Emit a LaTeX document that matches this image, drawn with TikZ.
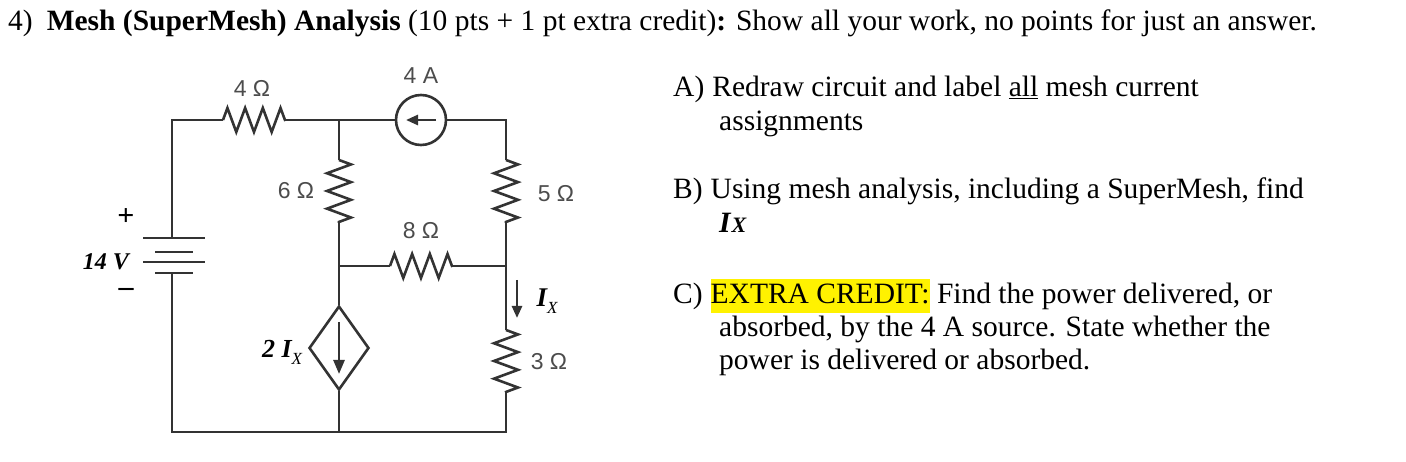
\documentclass[tikz,border=0pt]{standalone}
\usepackage{fontspec}
\setmainfont{Liberation Serif}
\newfontfamily\circfont{Liberation Sans}
\usetikzlibrary{decorations.pathmorphing,shapes.geometric,arrows.meta}
\begin{document}
\begin{tikzpicture}[x=1pt,y=-1pt,
    wire/.style={line width=2.6pt, black!80},
    res/.style={wire, decorate, decoration={zigzag, segment length=17.7pt, amplitude=12pt}},
    val/.style={font=\circfont\fontsize{23}{25}\selectfont, text=black!70},
    txt/.style={anchor=base west, font=\fontsize{29.5}{33}\selectfont, inner sep=0pt}]
    \useasboundingbox (0,0) rectangle (1406,462);
    % Corners and junctions
    \coordinate (tl) at (172,120); \coordinate (tm) at (339,120); \coordinate (tr) at (506,120);
    \coordinate (ml) at (339,266); \coordinate (mr) at (506,266);
    \coordinate (bl) at (172,432); \coordinate (bm) at (339,432); \coordinate (br) at (506,432);
    \coordinate (bat+) at (172,238); \coordinate (bat-) at (172,273);
    \coordinate (ra1) at (223,120); \coordinate (ra2) at (285,120);
    \coordinate (rb1) at (339,160); \coordinate (rb2) at (339,223);
    \coordinate (rc1) at (506,160); \coordinate (rc2) at (506,223);
    \coordinate (rd1) at (390,266); \coordinate (rd2) at (452,266);
    \coordinate (re1) at (506,330); \coordinate (re2) at (506,392);
    \coordinate (ix1) at (517,280); \coordinate (ix2) at (517,318);

    % Sources
    \node[circle, draw, wire, minimum size=50pt, inner sep=0pt] (src) at (421,120) {};
    \node[diamond, draw, wire, minimum width=60pt, minimum height=84pt, inner sep=0pt] (dep) at (339,348) {};
    \draw[wire, -{Triangle[length=12pt,width=10pt]}] ([xshift=15pt]src.center) -- ([xshift=-15pt]src.center);
    \draw[wire, -{Triangle[length=14pt,width=11pt]}] ([yshift=26pt]dep.center) -- ([yshift=-26pt]dep.center);

    % Wires
    \draw[wire] (bat+) -- (tl) -- (ra1);
    \draw[wire] (ra2) -- (tm) -- (src.west);
    \draw[wire] (src.east) -- (tr) -- (rc1);
    \draw[wire] (tm) -- (rb1);
    \draw[wire] (rb2) -- (ml) -- (rd1);
    \draw[wire] (rd2) -- (mr) -- (rc2);
    \draw[wire] (ml) -- (dep.north);
    \draw[wire] (dep.south) -- (bm);
    \draw[wire] (mr) -- (re1);
    \draw[wire] (re2) -- (br) -- (bl) -- (bat-);
    \draw[wire] (bm) -- (br);

    % Resistors
    \draw[res] (ra1) -- (ra2);
    \draw[res] (rb1) -- (rb2);
    \draw[res] (rc1) -- (rc2);
    \draw[res] (rd1) -- (rd2);
    \draw[res] (re1) -- (re2);

    % Battery
    \draw[wire] (143,238) -- (205,238);
    \draw[wire] (155,252) -- (193,252);
    \draw[wire] (143,262) -- (205,262);
    \draw[wire] (155,273) -- (193,273);

    % Current arrow
    \draw[wire, -{Triangle[length=12pt,width=10pt]}] (ix1) -- (ix2);

    % Labels
    \node[val] (l4) at (252,88) {4 Ω};
    \node[val] (lA) at (421,76) {4 A};
    \node[val] (l6) at (296,191) {6 Ω};
    \node[val] (l5) at (556,194) {5 Ω};
    \node[val] (l8) at (421,231) {8 Ω};
    \node[val] (l3) at (549,362) {3 Ω};
    \node[font=\fontsize{30}{30}\selectfont\bfseries] (lp) at (126,217) {+};
    \node[font=\fontsize{30}{30}\selectfont\bfseries] (lm) at (126,292) {\textendash};
    \node[font=\fontsize{24}{26}\selectfont\bfseries\itshape] (lv) at (106,262) {14 V};
    \node[font=\fontsize{27}{28}\selectfont\bfseries\itshape] (lix) at (547,301) {I\raisebox{-7pt}{\fontsize{17}{17}\selectfont\mdseries X}};
    \node[font=\fontsize{26}{28}\selectfont\bfseries\itshape] (l2ix) at (282,352) {2 I\raisebox{-7pt}{\fontsize{17}{17}\selectfont\mdseries X}};

    % Text
    \node[txt] (title) at (8,31) {4)\hspace{14pt}\textbf{Mesh (SuperMesh) Analysis} (10 pts + 1 pt extra credit)\textbf{:} Show all your work, no points for just an answer.};
    \node[txt] (qa) at (673,97) {A)\hspace{8pt}Redraw circuit and label \underline{all} mesh current};
    \node[txt] (qa2) at (719,131) {assignments};
    \node[txt] (qb) at (673,199) {B)\hspace{8pt}Using mesh analysis, including a SuperMesh, find};
    \node[txt] (qb2) at (719,233) {\textbf{\textit{I}}\textbf{\textit{\fontsize{22}{22}\selectfont X}}};
    \node[txt] (qc) at (673,304) {C)\hspace{8pt}\colorbox{yellow}{\rule[-6pt]{0pt}{28pt}\hspace{-3pt}EXTRA CREDIT:\hspace{-3pt}} Find the power delivered, or};
    \node[txt] (qc2) at (719,337) {absorbed, by the 4 A source. State whether the};
    \node[txt] (qc3) at (719,370) {power is delivered or absorbed.};
\end{tikzpicture}
\end{document}
